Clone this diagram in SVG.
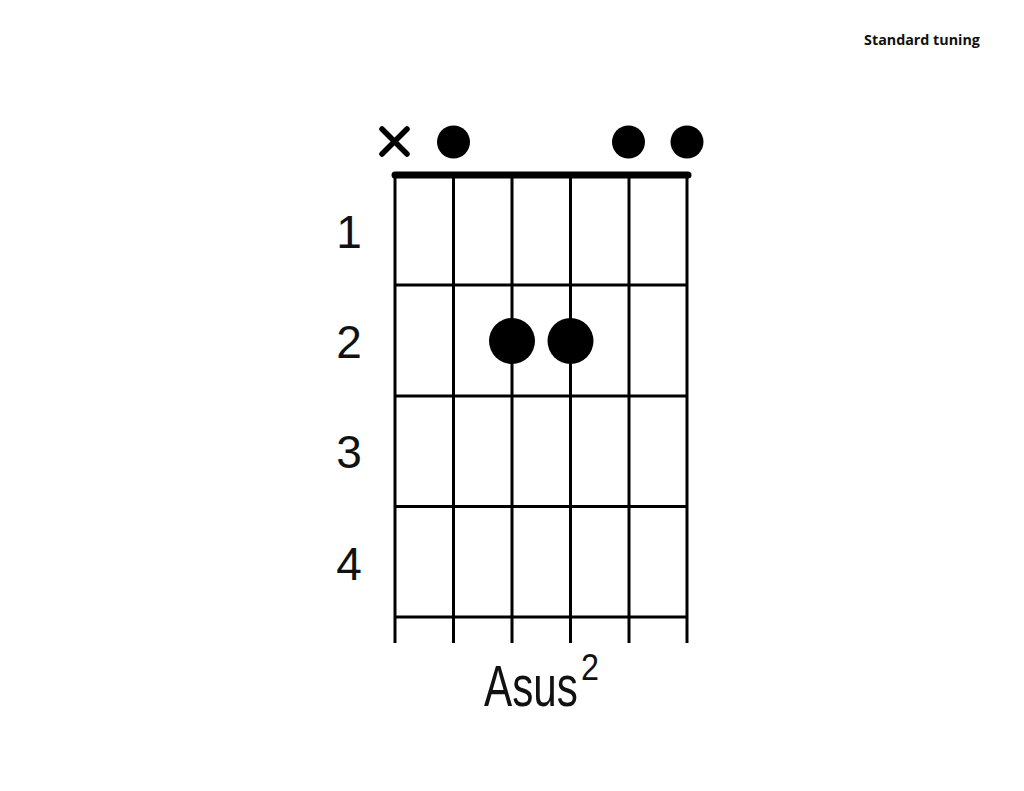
<svg xmlns="http://www.w3.org/2000/svg" width="1024" height="791" viewBox="0 0 1024 791">
<style>
.s{stroke:#000;stroke-width:3;fill:none}
.f{fill:#000}
.n{font-family:"Liberation Sans",Arial,sans-serif;font-size:46px;fill:#111;text-anchor:middle}
.c{font-family:"Liberation Sans",Arial,sans-serif;fill:#111}
</style>
<rect width="1024" height="791" fill="#fff"/>
<text x="922" y="45" font-family="Open Sans, Liberation Sans, sans-serif" font-weight="bold" font-size="14.3" text-anchor="middle" fill="#111">Standard tuning</text>
<g id="grid">
<line class="s" x1="395" y1="175" x2="395" y2="643"/>
<line class="s" x1="453.5" y1="175" x2="453.5" y2="643"/>
<line class="s" x1="512" y1="175" x2="512" y2="643"/>
<line class="s" x1="570.5" y1="175" x2="570.5" y2="643"/>
<line class="s" x1="629" y1="175" x2="629" y2="643"/>
<line class="s" x1="687" y1="175" x2="687" y2="643"/>
<line class="s" x1="395" y1="285" x2="687" y2="285"/>
<line class="s" x1="395" y1="396" x2="687" y2="396"/>
<line class="s" x1="395" y1="506.5" x2="687" y2="506.5"/>
<line class="s" x1="395" y1="617" x2="687" y2="617"/>
<line x1="395" y1="175" x2="688" y2="175" stroke="#000" stroke-width="7" stroke-linecap="round"/>
</g>
<g id="open-marks">
<path d="M382 129 L407 154 M407 129 L382 154" stroke="#000" stroke-width="5.5" stroke-linecap="round"/>
<circle class="f" cx="453.5" cy="142" r="16.5"/>
<circle class="f" cx="628.5" cy="142" r="16.5"/>
<circle class="f" cx="687" cy="142" r="16.5"/>
</g>
<g id="fingers">
<circle class="f" cx="512" cy="341" r="23"/>
<circle class="f" cx="570.5" cy="341" r="23"/>
</g>
<g id="fret-numbers">
<text class="n" x="349" y="248">1</text>
<text class="n" x="349" y="358">2</text>
<text class="n" x="349" y="468">3</text>
<text class="n" x="349" y="580">4</text>
</g>
<g id="chord-name">
<text class="c" x="484" y="706" font-size="58" textLength="94" lengthAdjust="spacingAndGlyphs">Asus</text>
<text class="c" x="581" y="680" font-size="36" textLength="18" lengthAdjust="spacingAndGlyphs">2</text>
</g>
</svg>
